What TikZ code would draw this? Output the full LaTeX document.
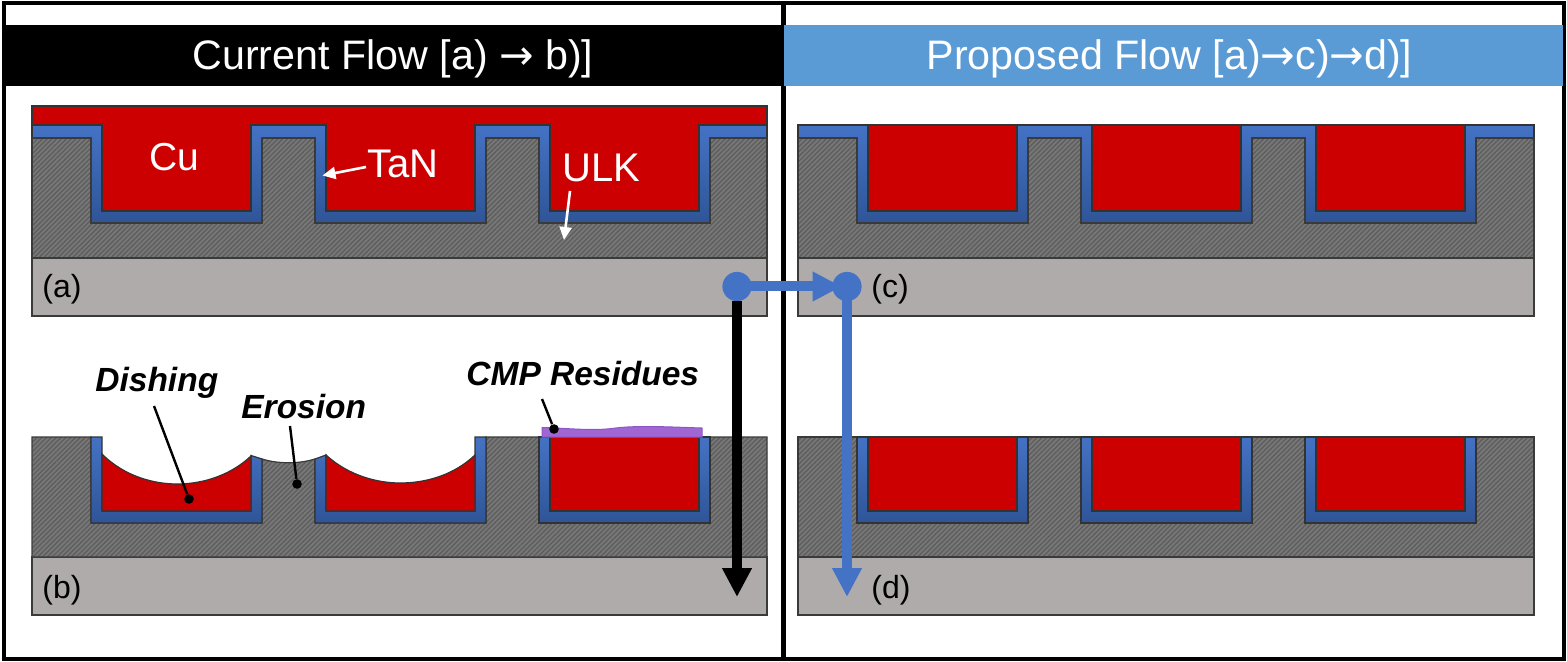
\documentclass[tikz,border=0pt]{standalone}
\usepackage{fontspec}
\setmainfont{Liberation Sans}
\newfontfamily\arrowfont{DejaVu Sans}
\usetikzlibrary{arrows.meta,patterns.meta}
\definecolor{cured}{HTML}{CC0000}
\definecolor{tantop}{HTML}{4472C4}
\definecolor{tanbot}{HTML}{2F5597}
\definecolor{ulkfill}{HTML}{777777}
\definecolor{ulkline}{HTML}{5C5C5C}
\definecolor{subfill}{HTML}{AFABAB}
\definecolor{edgegray}{HTML}{3A3A3A}
\definecolor{headblue}{HTML}{5B9BD5}
\definecolor{flowblue}{HTML}{4472C4}
\definecolor{resfill}{HTML}{A066D3}
\definecolor{resline}{HTML}{8E55C4}
\tikzset{
substrate/.style = {draw=edgegray, fill=subfill, line width=0.6pt},
ulk/.style = {draw=edgegray, line width=0.6pt, preaction={fill=ulkfill}, pattern={Lines[angle=45,distance=1.7pt,line width=0.6pt]}, pattern color=ulkline},
tan/.style = {draw=black!80, line width=0.6pt, top color=tantop, bottom color=tanbot},
cu/.style = {draw=black!80, fill=cured, line width=0.6pt},
headbar/.style = {rectangle, inner sep=0, outer sep=0, anchor=north west, minimum height=30.5pt},
headtext/.style = {text=white, anchor=base, inner sep=0, font=\fontsize{20.6}{20.6}\selectfont},
whitelabel/.style = {text=white, anchor=base west, inner sep=0, font=\fontsize{20}{20}\selectfont},
panellabel/.style = {anchor=base west, inner sep=0, font=\fontsize{16}{16}\selectfont},
defect/.style = {anchor=base west, inner sep=0, font=\fontsize{16.75}{16.75}\selectfont\bfseries\itshape},
blackdot/.style = {circle, fill=black, inner sep=0, minimum size=4.8pt},
flowdot/.style = {circle, fill=flowblue, inner sep=0, minimum size=14.6pt},
pointer/.style = {line width=1.2pt},
whitearrow/.style = {draw=white, line width=1.3pt, -{Triangle[length=6.5pt,width=6pt]}}
}

\begin{document}
\begin{tikzpicture}[x=0.5pt,y=-0.5pt]
	\useasboundingbox (0,0) rectangle (1567,662);
	\draw[black, line width=2pt] (3.5,3) rectangle (1564,658.5);
	\draw[black, line width=2.5pt] (783,3) -- (783,658.5);
	\node[headbar, fill=black, minimum width=390pt] (curbar) at (3,25) {};
	\node[headbar, fill=headblue, minimum width=389.5pt] (propbar) at (783.5,25) {};
	\node[headtext] (curtitle) at (393,70) {Current Flow [a) {\arrowfont →} b)]};
	\node[headtext] (proptitle) at (1169.5,70) {Proposed Flow [a){\arrowfont →}c){\arrowfont →}d)]};

	\draw[substrate] (32,258) rectangle (767,316);
	\draw[cu] (32,106) rectangle (767,212);
	\draw[tan] (32,125) -- (102,125) -- (102,211) -- (251,211) -- (251,125) -- (326,125) -- (326,211) -- (475,211) -- (475,125) -- (550,125) -- (550,211) -- (699,211) -- (699,125) -- (767,125) -- (767,138) -- (710,138) -- (710,223) -- (539,223) -- (539,138) -- (486,138) -- (486,223) -- (315,223) -- (315,138) -- (262,138) -- (262,223) -- (91,223) -- (91,138) -- (32,138) -- cycle;
	\draw[ulk] (32,138) -- (91,138) -- (91,223) -- (262,223) -- (262,138) -- (315,138) -- (315,223) -- (486,223) -- (486,138) -- (539,138) -- (539,223) -- (710,223) -- (710,138) -- (767,138) -- (767,258) -- (32,258) -- cycle;

	\draw[substrate] (798,258) rectangle (1534,316);
	\draw[tan] (798,125) -- (868,125) -- (868,211) -- (1017,211) -- (1017,125) -- (1092,125) -- (1092,211) -- (1241,211) -- (1241,125) -- (1316,125) -- (1316,211) -- (1465,211) -- (1465,125) -- (1534,125) -- (1534,138) -- (1476,138) -- (1476,223) -- (1305,223) -- (1305,138) -- (1252,138) -- (1252,223) -- (1081,223) -- (1081,138) -- (1028,138) -- (1028,223) -- (857,223) -- (857,138) -- (798,138) -- cycle;
	\draw[ulk] (798,138) -- (857,138) -- (857,223) -- (1028,223) -- (1028,138) -- (1081,138) -- (1081,223) -- (1252,223) -- (1252,138) -- (1305,138) -- (1305,223) -- (1476,223) -- (1476,138) -- (1534,138) -- (1534,258) -- (798,258) -- cycle;
	\draw[cu] (868,125) rectangle (1017,211);
	\draw[cu] (1092,125) rectangle (1241,211);
	\draw[cu] (1316,125) rectangle (1465,211);

	\draw[substrate] (32,557) rectangle (767,615);
	\draw[ulk] (32,437) -- (91,437) -- (91,523) -- (262,523) -- (262,459) .. controls (278,464) and (299,464) .. (315,459) -- (315,523) -- (486,523) -- (486,437) -- (539,437) -- (539,523) -- (710,523) -- (710,437) -- (767,437) -- (767,557) -- (32,557) -- cycle;
	\draw[tan] (91,437) -- (102,437) -- (102,454) -- (102,511) -- (251,511) -- (251,455.5) -- (262,459) -- (262,523) -- (91,523) -- cycle;
	\draw[tan] (315,459) -- (326,455) -- (326,511) -- (475,511) -- (475,437) -- (486,437) -- (486,523) -- (315,523) -- cycle;
	\draw[tan] (539,437) -- (550,437) -- (550,511) -- (699,511) -- (699,437) -- (710,437) -- (710,523) -- (539,523) -- cycle;
	\draw[cu] (102,454) .. controls (125,477) and (155,484) .. (177,484) .. controls (205,484) and (232,474) .. (251,456) -- (251,511) -- (102,511) -- cycle;
	\draw[cu] (326,455) .. controls (349,476) and (378,483) .. (400,483) .. controls (428,483) and (455,474) .. (475,455) -- (475,511) -- (326,511) -- cycle;
	\draw[cu] (550,437) rectangle (699,511);
	\draw[draw=resline, fill=resfill, line width=0.5pt] (542,437) -- (542,427.5) .. controls (565,428) and (590,431) .. (612,428.5) .. controls (635,425) and (670,427) .. (702,428) -- (702,437) -- cycle;

	\draw[substrate] (798,557) rectangle (1534,615);
	\draw[ulk] (798,437) rectangle (1534,557);
	\draw[tan] (857,437) -- (868,437) -- (868,511) -- (1017,511) -- (1017,437) -- (1028,437) -- (1028,523) -- (857,523) -- cycle;
	\draw[tan] (1081,437) -- (1092,437) -- (1092,511) -- (1241,511) -- (1241,437) -- (1252,437) -- (1252,523) -- (1081,523) -- cycle;
	\draw[tan] (1305,437) -- (1316,437) -- (1316,511) -- (1465,511) -- (1465,437) -- (1476,437) -- (1476,523) -- (1305,523) -- cycle;
	\draw[cu] (868,437) rectangle (1017,511);
	\draw[cu] (1092,437) rectangle (1241,511);
	\draw[cu] (1316,437) rectangle (1465,511);

	\node[whitelabel, font=\fontsize{19.5}{19.5}\selectfont] (culabel) at (149,171) {Cu};
	\node[whitelabel] (tanlabel) at (367,178) {TaN};
	\node[whitelabel] (ulklabel) at (562,182) {ULK};
	\coordinate (tantail) at (366,167);
	\coordinate (tantip) at (322.5,175.5);
	\coordinate (ulktail) at (570,191);
	\coordinate (ulktip) at (564,240);
	\draw[whitearrow] (tantail) -- (tantip);
	\draw[whitearrow] (ulktail) -- (ulktip);

	\node[panellabel] (labela) at (42,298) {(a)};
	\node[panellabel] (labelb) at (42,598) {(b)};
	\node[panellabel] (labelc) at (871,298) {(c)};
	\node[panellabel] (labeld) at (871,598) {(d)};

	\node[defect] (dishing) at (95,392) {Dishing};
	\node[defect] (erosion) at (241,418) {Erosion};
	\node[defect] (residues) at (466,386) {CMP Residues};
	\node[blackdot] (dishdot) at (189,499) {};
	\node[blackdot] (erodot) at (297,484) {};
	\node[blackdot] (resdot) at (554,429) {};
	\coordinate (dishtop) at (154,406);
	\coordinate (erotop) at (290,426);
	\coordinate (restop) at (542,399);
	\draw[pointer] (dishtop) -- (dishdot);
	\draw[pointer] (erotop) -- (erodot);
	\draw[pointer] (restop) -- (resdot);

	\coordinate (bend) at (737,597);
	\coordinate (dend) at (847,597);
	\node[flowdot] (adot) at (737,286.5) {};
	\node[flowdot] (cdot) at (847,286.5) {};
	\draw[black, line width=5pt, -{Triangle[length=14.5pt,width=14pt]}] (adot.south) -- (bend);
	\draw[flowblue, line width=5pt, -{Triangle[length=14.5pt,width=14pt]}, shorten <=-1pt, shorten >=-4.75pt] (adot.east) -- (cdot.west);
	\draw[flowblue, line width=5pt, -{Triangle[length=14.5pt,width=14pt]}, shorten <=-1pt] (cdot.south) -- (dend);
\end{tikzpicture}
\end{document}
